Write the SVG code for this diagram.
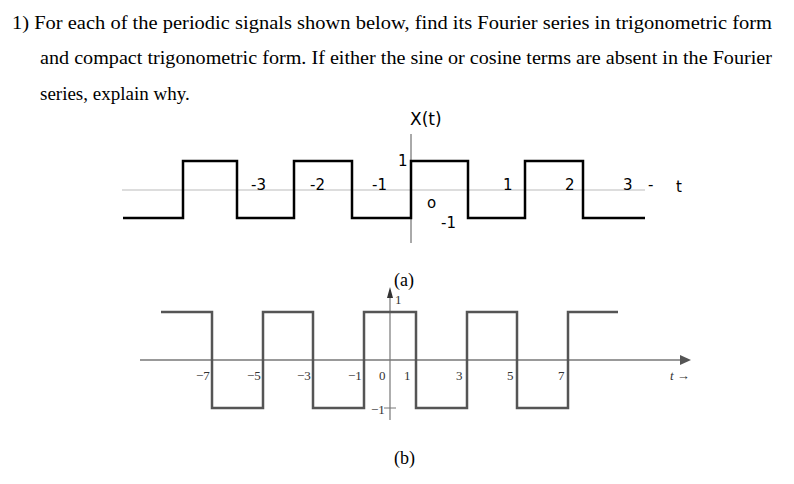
<svg xmlns="http://www.w3.org/2000/svg" width="794" height="484" viewBox="0 0 794 484">
<style>
.q{font-family:"Liberation Serif",serif;font-size:19px;fill:#000}
.a{font-family:"DejaVu Sans","Liberation Sans",sans-serif;font-size:15px;fill:#000}
.b{font-family:"Liberation Serif",serif;font-size:13px;fill:#333}
.cap{font-family:"Liberation Serif",serif;font-size:18px;fill:#000}
.sig{fill:none;stroke:#000;stroke-width:2.5}
.sigb{fill:none;stroke:#555;stroke-width:2.5}
.ax{stroke:#bbb;stroke-width:1}
</style>
<rect width="794" height="484" fill="#fff"/>
<g id="question">
<text class="q" x="12" y="29" textLength="760" lengthAdjust="spacingAndGlyphs">1)  For each of the periodic signals shown below, find its Fourier series in trigonometric form</text>
<text class="q" x="40" y="64" textLength="732" lengthAdjust="spacingAndGlyphs">and compact trigonometric form. If either the sine or cosine terms are absent in the Fourier</text>
<text class="q" x="40" y="100">series, explain why.</text>
</g>
<g id="graph-a">
<line class="ax" x1="122" y1="190" x2="645" y2="190"/>
<line x1="411" y1="134" x2="411" y2="243" stroke="#555" stroke-width="1"/>
<path class="sig" d="M123 218H183V161H237V218H294V161H352V218H411V161H468V218H525V161H583V218H645"/>
<text class="a" x="410" y="125" style="font-size:17px">X(t)</text>
<text class="a" x="398" y="166">1</text>
<text class="a" x="251" y="190">-3</text>
<text class="a" x="310" y="190">-2</text>
<text class="a" x="372" y="190">-1</text>
<text class="a" x="427" y="208">o</text>
<text class="a" x="441" y="228">-1</text>
<text class="a" x="503" y="190">1</text>
<text class="a" x="565" y="190">2</text>
<text class="a" x="623" y="190">3</text>
<text class="a" x="648" y="190">-</text>
<text class="a" x="676" y="192">t</text>
<text class="cap" x="394" y="286">(a)</text>
</g>
<g id="graph-b">
<line x1="140" y1="360" x2="680" y2="360" stroke="#777" stroke-width="1.5"/>
<path d="M680 355L691 360L680 365Z" fill="#555"/>
<line x1="390" y1="290" x2="390" y2="420" stroke="#777" stroke-width="1.2"/>
<path d="M387 298L390 287L393 298Z" fill="#333"/>
<line x1="384" y1="408" x2="396" y2="408" stroke="#777" stroke-width="1"/>
<path class="sigb" d="M161 312H212V408H263V312H313V408H364V312H416V408H467V312H517V408H568V312H618"/>
<text class="b" x="395" y="304">1</text>
<text class="b" x="196" y="380">−7</text>
<text class="b" x="247" y="380">−5</text>
<text class="b" x="297" y="380">−3</text>
<text class="b" x="348" y="380">−1</text>
<text class="b" x="379" y="380">0</text>
<text class="b" x="404" y="380">1</text>
<text class="b" x="456" y="380">3</text>
<text class="b" x="507" y="380">5</text>
<text class="b" x="558" y="380">7</text>
<text class="b" x="670" y="380" style="font-style:italic">t →</text>
<text class="b" x="371" y="414">−1</text>
<text class="cap" x="394" y="464">(b)</text>
</g>
</svg>
